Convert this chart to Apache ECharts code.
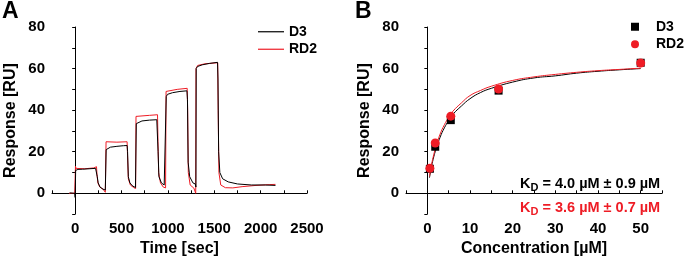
<!DOCTYPE html>
<html><head><meta charset="utf-8">
<script src="https://cdn.jsdelivr.net/npm/echarts@6/dist/echarts.min.js"></script>
<style>html,body{margin:0;padding:0;background:#fff}#c{width:685px;height:262px}</style>
</head><body><div id="c"></div>
<script>
// Panel A: sensorgram [time (s), response (RU)]
const d3Sensorgram = [[-60,0.2],[-5,0],[0,-2],[5,11],[15,11.8],[30,11.5],[80,11.6],[150,11.8],[220,12.0],[232,11.8],[238,8],[248,5],[268,3],[300,2],[325,1.6],[330,2],
[334,21],[345,21.8],[380,22.2],[450,22.6],[520,22.9],[560,23],[565,20],[573,8],[590,5],[620,3.5],[650,2.8],[655,3],
[659,33.5],[670,34.3],[720,34.8],[800,35.2],[880,35.4],[888,35],[894,20],[903,8],[930,5],[960,4],[978,3.8],
[982,46.5],[995,47.6],[1050,48.4],[1130,49],[1205,49.3],[1211,45],[1218,15],[1235,8],[1270,5],[1295,4.5],[1302,3],
[1305,60],[1320,61],[1370,61.8],[1450,62.5],[1535,63],[1540,55],[1547,20],[1560,10],[1590,7],[1650,5.5],[1750,4.5],[1900,4],[2050,4],[2160,3.8]];
const rd2Sensorgram = [[-65,0],[-5,0],[0,0],[3,13],[10,12],[30,11.6],[100,11.8],[200,12.2],[230,12.8],[235,9],[245,5],[265,3],[300,2],[325,0.5],[330,1],
[333,24.8],[345,24.6],[450,24.6],[560,24.8],[565,18],[573,7],[595,4],[630,2.8],[652,2.3],
[656,37],[670,37.4],[800,37.5],[888,37.8],[893,25],[900,10],[920,5],[950,3],[975,2.6],
[980,49],[1000,49.5],[1100,50],[1208,50.5],[1213,40],[1220,10],[1240,4],[1280,2.5],[1300,0],
[1303,60],[1320,61.5],[1400,62.3],[1537,62.8],[1542,40],[1550,10],[1570,4],[1620,2.7],[1700,2.6],[1800,3.2],[1950,3.8],[2100,4.2],[2160,4.3]];
// Panel B: equilibrium response vs concentration (µM)
const concentrations = [0.6, 1.85, 5.5, 16.7, 50];
const d3Response = [11.8, 22.4, 35.2, 49.4, 62.8];
const rd2Response = [12.0, 24.2, 37.1, 50.2, 62.7];
const fitConc = [0.5,1,1.5,2,3,4,5,6,8,10,12.5,15,20,25,30,35,40,45,50];
const d3Fit = [7.5,13,17.5,21,27,31.5,35,38,42,45.5,48.5,50.5,53.5,55.5,56.5,57.8,58.7,59.4,60];
const rd2Fit = [8,14,18.5,22.5,28.5,33,36.5,39.5,43.5,47,49.5,51.5,54.3,56,57.2,58.2,59,59.6,60.2];
const yTicksLabels = [0,20,40,60,80];

const RED = '#ee1c25';
const FONT = 'Liberation Sans';
const chart = echarts.init(document.getElementById('c'));
function yAxis(gi){
  return {gridIndex:gi,type:'value',min:-10,max:80,interval:10,
    name:'Response [RU]',nameLocation:'middle',nameGap:33,
    nameTextStyle:{fontFamily:FONT,fontWeight:'bold',fontSize:16,color:'#000'},
    axisLine:{show:true,lineStyle:{color:'#000',width:1}},
    axisTick:{show:true,length:3,lineStyle:{color:'#000'}},
    axisLabel:{fontFamily:FONT,fontWeight:'bold',fontSize:15,color:'#000',margin:7,
      formatter:v=>yTicksLabels.includes(v)?String(v):''},
    splitLine:{show:false}};
}
const pair = (xs,ys)=>xs.map((x,i)=>[x,ys[i]]);
const txt = {fontFamily:FONT,fontWeight:'bold',fontSize:14,color:'#000'};
chart.setOption({
  animation:false,
  textStyle:{fontFamily:FONT},
  grid:[{left:52,right:378,top:27,bottom:45},{left:406,right:23,top:27,bottom:45}],
  xAxis:[
    {gridIndex:0,type:'value',min:-250,max:2500,interval:250,
     name:'Time [sec]',nameLocation:'middle',nameGap:26,
     nameTextStyle:{fontFamily:FONT,fontWeight:'bold',fontSize:16,color:'#000'},
     axisLine:{lineStyle:{color:'#000'}},axisTick:{inside:true,length:3,lineStyle:{color:'#000'}},
     axisLabel:{fontFamily:FONT,fontWeight:'bold',fontSize:15,color:'#000',margin:7,
       formatter:v=>(v>=0&&v%500===0)?String(v):''},
     splitLine:{show:false}},
    {gridIndex:1,type:'value',min:-5,max:55,interval:5,
     name:'Concentration [µM]',nameLocation:'middle',nameGap:26,
     nameTextStyle:{fontFamily:FONT,fontWeight:'bold',fontSize:16,color:'#000'},
     axisLine:{lineStyle:{color:'#000'}},axisTick:{inside:true,length:3,lineStyle:{color:'#000'}},
     axisLabel:{fontFamily:FONT,fontWeight:'bold',fontSize:15,color:'#000',margin:7,
       formatter:v=>(v>=0&&v%10===0)?String(v):''},
     splitLine:{show:false}}
  ],
  yAxis:[yAxis(0),yAxis(1)],
  legend:[
    {data:[{name:'D3',icon:'rect'},{name:'RD2',icon:'rect'}],left:253,top:19,orient:'vertical',
     itemWidth:26,itemHeight:1.2,itemGap:2,textStyle:Object.assign({lineHeight:15.5},txt)},
    {data:[{name:'D3 ',icon:'rect'},{name:'RD2 ',icon:'circle'}],left:626,top:14,orient:'vertical',
     itemWidth:8,itemHeight:8,itemGap:2,
     textStyle:Object.assign({lineHeight:15.5,padding:[0,0,0,12]},txt)}
  ],
  series:[
    {name:'D3',type:'line',xAxisIndex:0,yAxisIndex:0,data:d3Sensorgram,symbol:'none',
     lineStyle:{color:'#000',width:1},itemStyle:{color:'#000'},z:3},
    {name:'RD2',type:'line',xAxisIndex:0,yAxisIndex:0,data:rd2Sensorgram,symbol:'none',
     lineStyle:{color:RED,width:1},itemStyle:{color:RED},z:2},
    {name:'d3fit',type:'line',xAxisIndex:1,yAxisIndex:1,data:pair(fitConc,d3Fit),symbol:'none',smooth:true,
     lineStyle:{color:'#000',width:1},z:2},
    {name:'rd2fit',type:'line',xAxisIndex:1,yAxisIndex:1,data:pair(fitConc,rd2Fit),symbol:'none',smooth:true,
     lineStyle:{color:RED,width:1},z:2},
    {name:'D3 ',type:'scatter',xAxisIndex:1,yAxisIndex:1,data:pair(concentrations,d3Response),symbol:'rect',symbolSize:8,
     itemStyle:{color:'#000',opacity:1},z:3},
    {name:'RD2 ',type:'scatter',xAxisIndex:1,yAxisIndex:1,data:pair(concentrations,rd2Response),symbol:'circle',symbolSize:9,
     itemStyle:{color:RED,opacity:1},z:4}
  ],
  graphic:[
    {type:'text',left:2,top:0,style:{text:'A',font:'bold 23px "Liberation Sans"',fill:'#000'}},
    {type:'text',left:355,top:0,style:{text:'B',font:'bold 23px "Liberation Sans"',fill:'#000'}},
    {type:'text',left:520,top:176,style:{text:'{k|K}{d|D}{k| = 4.0 µM ± 0.9 µM}',
      rich:{k:{font:'bold 14.5px "Liberation Sans"',fill:'#000'},d:{font:'bold 11px "Liberation Sans"',fill:'#000',padding:[8,0,0,0]}}}},
    {type:'text',left:520,top:200,style:{text:'{k|K}{d|D}{k| = 3.6 µM ± 0.7 µM}',
      rich:{k:{font:'bold 14.5px "Liberation Sans"',fill:RED},d:{font:'bold 11px "Liberation Sans"',fill:RED,padding:[8,0,0,0]}}}}
  ]
});
</script></body></html>
